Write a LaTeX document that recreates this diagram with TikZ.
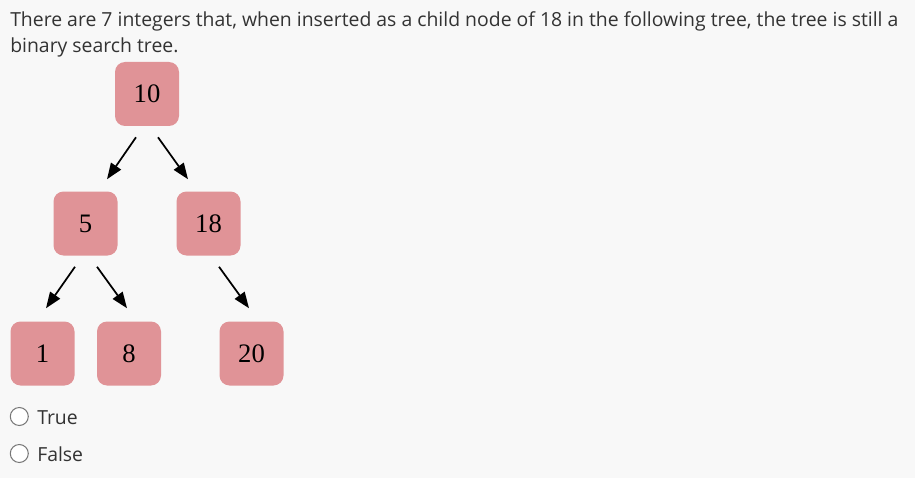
\documentclass[tikz,border=0pt]{standalone}
\usepackage{fontspec}
\setmainfont{Open Sans}
\newfontfamily\numfont{Liberation Serif}
\usetikzlibrary{calc,arrows.meta}
\definecolor{bgc}{HTML}{F8F8F8}
\definecolor{nodec}{HTML}{E09397}
\definecolor{txtc}{HTML}{333333}
\definecolor{radioc}{HTML}{777777}
\begin{document}
\begin{tikzpicture}[x=0.75pt,y=-0.75pt,
  treenode/.style={fill=nodec,draw=none,rounded corners=7.5pt,minimum width=48pt,minimum height=48pt,inner sep=0pt,font=\numfont\fontsize{20}{20}\selectfont,text=black},
  edge/.style={-{Triangle[length=12pt,width=9pt]},line width=1.3pt,black},
  body/.style={font=\fontsize{14.55}{17}\selectfont,text=txtc,inner sep=0pt,anchor=base west},
  radio/.style={circle,draw=radioc,fill=white,line width=0.75pt,minimum size=13.5pt,inner sep=0pt}]
\fill[bgc] (0,0) rectangle (915,478);
\useasboundingbox (0,0) rectangle (915,478);
\node[body] (q1) at (10,26.5) {There are 7 integers that, when inserted as a child node of 18 in the following tree, the tree is still a};
\node[body] (q2) at (10,53) {binary search tree.};
\node[treenode] (n10) at (147,94) {10};
\node[treenode] (n5) at (85.5,223.5) {5};
\node[treenode] (n18) at (208.5,223.5) {18};
\node[treenode] (n1) at (42.5,353.5) {1};
\node[treenode] (n8) at (129,353.5) {8};
\node[treenode] (n20) at (251.5,353.5) {20};
\draw[edge] ($(n10.south)+(-11,11)$) -- ($(n5.north)+(21.5,-12)$);
\draw[edge] ($(n10.south)+(11,11)$) -- ($(n18.north)+(-20.5,-12)$);
\draw[edge] ($(n5.south)+(-10.5,11)$) -- ($(n1.north)+(3.5,-13)$);
\draw[edge] ($(n5.south)+(11.5,11)$) -- ($(n8.north)+(-2,-13)$);
\draw[edge] ($(n18.south)+(10.5,11)$) -- ($(n20.north)+(-2.5,-13)$);
\node[radio] (r1) at (19.3,416.5) {};
\node[radio] (r2) at (19.3,453.5) {};
\node[body] (t1) at (37,424) {True};
\node[body] (t2) at (37,461.5) {False};
\end{tikzpicture}
\end{document}
